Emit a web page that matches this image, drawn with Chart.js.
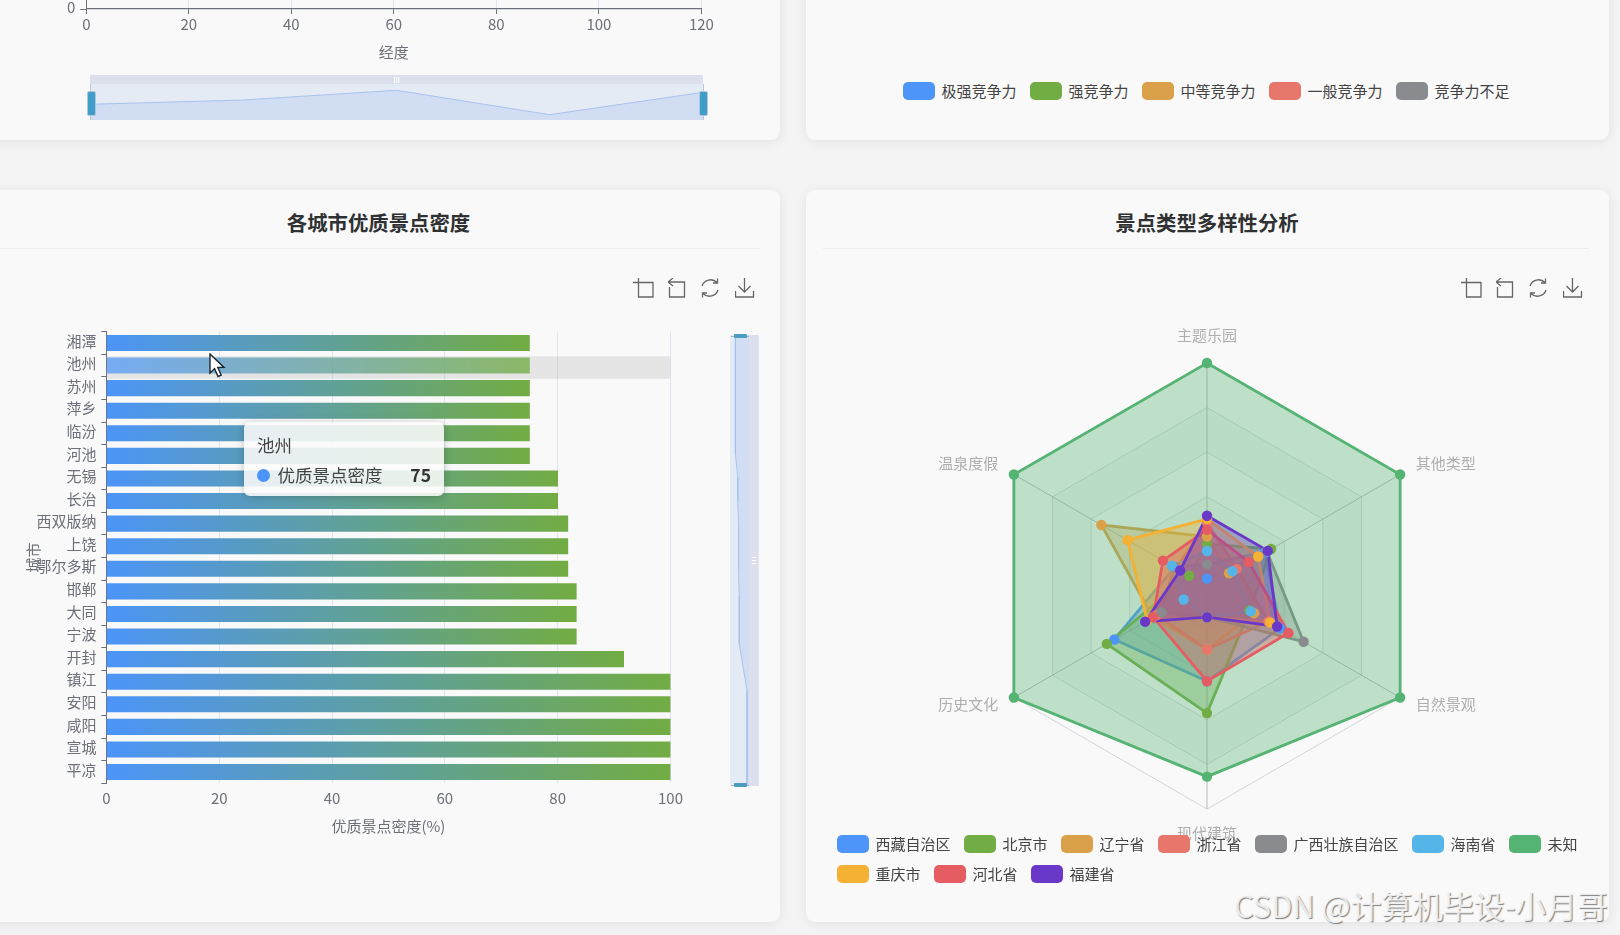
<!DOCTYPE html>
<html lang="zh"><head><meta charset="utf-8"><title>景点分析</title>
<script src="https://cdn.jsdelivr.net/npm/chart.js@4"></script>
<style>
html,body{margin:0;padding:0;width:1620px;height:935px;overflow:hidden;background:#f4f4f4;font-family:"Noto Sans CJK SC","Noto Sans",sans-serif}
.abs,canvas{position:absolute}
.card{position:absolute;background:#f9f9f9;border-radius:9px;box-shadow:0 2px 12px rgba(0,0,0,.08)}
.title{position:absolute;font-size:20.4px;font-weight:700;color:#303133;line-height:28px;transform:translateX(-50%);white-space:nowrap}
.rule{position:absolute;height:1px;background:#ebeef0}
.legend{position:absolute;display:flex;gap:13.4px;font-size:15px;color:#444;line-height:18px;white-space:nowrap}
.legend span.item{display:flex;gap:6.6px;align-items:center}
.legend i{display:inline-block;width:32px;height:18px;border-radius:5px}
#tip{position:absolute;left:244px;top:422px;width:200px;height:74px;background:rgba(250,251,251,.88);border-radius:6px;box-shadow:0 1px 8px rgba(0,0,0,.22);color:#444}
#tip div{position:absolute;font-size:17.5px;line-height:24px;white-space:nowrap}
#wm{position:absolute;left:1234px;top:885px;font-size:30.8px;line-height:40px;color:rgba(250,250,250,.85);text-shadow:1px 1px 1px rgba(90,90,90,.75);white-space:nowrap;font-family:"Noto Sans CJK SC",sans-serif}
svg.ic{position:absolute;fill:none;stroke:#666;stroke-width:1.3}
</style></head><body>
<div class="card" style="left:-30px;top:-200px;width:810px;height:339.5px"></div>
<div class="card" style="left:806px;top:-200px;width:803px;height:339.5px"></div>
<div class="card" style="left:-30px;top:190px;width:810px;height:731.7px"></div>
<div class="card" style="left:806px;top:190px;width:803px;height:731.7px"></div>
<div class="title" style="left:378.5px;top:208px" id="t1"></div>
<div class="title" style="left:1207px;top:208px" id="t2"></div>
<div class="rule" style="left:0;width:760px;top:248px"></div>
<div class="rule" style="left:823px;width:766px;top:248px"></div>

<!-- top-left dataZoom band -->
<div class="abs" style="left:90.4px;top:75.3px;width:613px;height:44.7px;background:#e4ebf4"></div>
<div class="abs" style="left:90.4px;top:75.3px;width:613px;height:8.7px;background:#dce0ed;border-radius:2px 2px 0 0"></div>
<!-- right dataZoom band -->
<div class="abs" style="left:730.2px;top:335px;width:27.6px;height:450.7px;background:#e4ebf4"></div>

<canvas id="topChart" width="780" height="170" style="left:0;top:-100px"></canvas>
<canvas id="miniH" width="613" height="36" style="left:90.4px;top:84px"></canvas>
<canvas id="barChart" width="700" height="540" style="left:0;top:300px"></canvas>
<canvas id="miniV" width="28" height="451" style="left:730.5px;top:335px"></canvas>
<canvas id="radar" width="800" height="580" style="left:807px;top:296px"></canvas>

<div class="abs" style="left:749px;top:335px;width:8.8px;height:450.7px;background:#dce0ed"></div>
<div class="abs" style="left:752px;top:557px;width:3.6px;height:1px;background:#fff;box-shadow:0 3px 0 #fff,0 6px 0 #fff"></div>
<div class="abs" style="left:394px;top:77px;width:1px;height:6px;background:#fff;box-shadow:2px 0 0 #fff,4px 0 0 #fff"></div>
<div class="abs" style="left:730.7px;top:335.5px;width:18px;height:1px;background:#a8b0bc"></div>
<div class="abs" style="left:730.7px;top:784.5px;width:18px;height:1px;background:#a8b0bc"></div>
<div class="abs" style="left:734px;top:334px;width:13px;height:4px;background:#4b9cc0;border-radius:1px"></div>
<div class="abs" style="left:734px;top:782.5px;width:13px;height:4px;background:#4b9cc0;border-radius:1px"></div>
<div class="abs" style="left:90px;top:84px;width:1px;height:36px;background:#b9c6dc"></div>
<div class="abs" style="left:703px;top:84px;width:1px;height:36px;background:#b9c6dc"></div>
<div class="abs" style="left:86.5px;top:90.7px;height:23.5px;background:#3f9ec8;border:1px solid #b4c6dc;border-radius:2px;width:7px"></div>
<div class="abs" style="left:698.8px;top:90.7px;width:7px;height:23.5px;background:#3f9ec8;border:1px solid #b4c6dc;border-radius:2px"></div>

<div id="legendTop" class="legend" style="left:903px;top:81.7px"></div>
<div id="legendR1" class="legend" style="left:837px;top:835px"></div>
<div id="legendR2" class="legend" style="left:837px;top:865px"></div>

<div id="tip">
  <div id="tipName" style="left:13px;top:11px"></div>
  <span class="abs" style="left:13px;top:46.5px;width:13px;height:13px;border-radius:50%;background:#4c94f8"></span>
  <div id="tipSeries" style="left:33.5px;top:41px"></div>
  <div id="tipVal" style="right:13px;top:41px;font-weight:700;color:#333"></div>
</div>

<svg class="abs" width="18" height="26" viewBox="0 0 18 26" style="left:208.5px;top:352.5px"><path d="M1 1 L1 20 L5.6 15.6 L9 23.5 L12.2 22.2 L8.8 14.5 L15 14.4 Z" fill="#fff" stroke="#1c2530" stroke-width="1.4"/></svg>

<div id="wm">CSDN @计算机毕设-小月哥</div>

<script>
// ---------- data ----------
const titleBar = '各城市优质景点密度';
const titleRadar = '景点类型多样性分析';
const cities = ['湘潭','池州','苏州','萍乡','临汾','河池','无锡','长治','西双版纳','上饶','鄂尔多斯','邯郸','大同','宁波','开封','镇江','安阳','咸阳','宣城','平凉'];
const density = [75,75,75,75,75,75,80,80,81.8,81.8,81.8,83.3,83.3,83.3,91.7,100,100,100,100,100];
const densityName = '优质景点密度';
const densityAxis = '优质景点密度(%)';
const cityAxis = '城市';
const hoverCity = '池州';
const densityTicks = [0,20,40,60,80,100];

const topXTicks = [0,20,40,60,80,100,120];
const topXName = '经度';
const miniCats = ['a','b','c','d','e'];
const miniValues = [15.7,20,29.7,5.3,27.7];

const levelNames = ['极强竞争力','强竞争力','中等竞争力','一般竞争力','竞争力不足'];
const levelColors = ['#4e95f9','#72ac45','#dba04a','#e8776b','#8a8b8f'];

const radarAxes = ['主题乐园','其他类型','自然景观','现代建筑','历史文化','温泉度假'];
const provinces = ['西藏自治区','北京市','辽宁省','浙江省','广西壮族自治区','海南省','未知','重庆市','河北省','福建省'];
const provinceColors = ['#4e95f9','#72ac45','#dba04a','#e8776b','#8a8b8f','#55b5e8','#55b373','#f5b133','#e55c62','#6a38c9'];
const xizang  = [3.3,30,37.9,42.7,48,16.8];
const beijing = [18.9,33.2,22,57,51.9,9.2];
const liaoning= [22.2,11.4,24.4,28.5,28,54.7];
const zhejiang= [28.5,15.4,31.8,28.5,26,16];
const guangxi = [9.6,31,50,14,23.5,17];
const hainan  = [15.7,13.2,22.7,14,12.1,18.2];
const weizhi  = [100,100,100,85.5,100,100];
const chongqing=[30,26.5,32.7,14,31,41.2];
const hebei   = [25.2,21.6,42.2,42.7,27.9,22.8];
const fujian  = [31.5,31.5,36.3,14,32,13.9];
const provinceValues = [xizang,beijing,liaoning,zhejiang,guangxi,hainan,weizhi,chongqing,hebei,fujian];

// ---------- static text ----------
const FONT = '"Noto Sans CJK SC","Noto Sans",sans-serif';
Chart.defaults.font.family = FONT;
Chart.defaults.font.size = 15;
Chart.defaults.animation = false;
Chart.defaults.responsive = false;
Chart.defaults.plugins.legend.display = false;
Chart.defaults.plugins.tooltip.enabled = false;

document.getElementById('t1').textContent = titleBar;
document.getElementById('t2').textContent = titleRadar;
const hoverIdx = cities.indexOf(hoverCity);
document.getElementById('tipName').textContent = cities[hoverIdx];
document.getElementById('tipSeries').textContent = densityName;
document.getElementById('tipVal').textContent = density[hoverIdx];

function fillLegend(id, names, colors){
  document.getElementById(id).innerHTML = names.map((n,i)=>
    `<span class="item"><i style="background:${colors[i]}"></i>${n}</span>`).join('');
}
fillLegend('legendTop', levelNames, levelColors);
fillLegend('legendR1', provinces.slice(0,7), provinceColors.slice(0,7));
fillLegend('legendR2', provinces.slice(7), provinceColors.slice(7));

const ICONS = [
 'M5.5 0V19H20V4.5H0',
 'M5 0L0 4L5 8M0 4H16.5V19H1.5V9',
 'M2 8A9 9 0 0 1 17 4.5M17.5 0.5V5H13M18 12A9 9 0 0 1 3 15.5M2.5 19.5V15H7',
 'M9.5 0V14M3.5 8L9.5 14L15.5 8M0.5 13V19H18.5V13'
];
const ICON_X = [633,668,700,735];
[0,827.6].forEach(dx=>ICONS.forEach((d,i)=>{
  const s = document.createElementNS('http://www.w3.org/2000/svg','svg');
  s.setAttribute('class','ic'); s.setAttribute('width','22'); s.setAttribute('height','22');
  s.style.left = (ICON_X[i]+dx)+'px'; s.style.top = '278px';
  const p = document.createElementNS('http://www.w3.org/2000/svg','path');
  p.setAttribute('d',d); s.appendChild(p); document.body.appendChild(s);
}));

// ---------- top-left cropped axis ----------
new Chart(document.getElementById('topChart'),{
  type:'scatter',
  data:{datasets:[{data:[]}]},
  options:{
    layout:{padding:{left:0,right:78.6,top:0,bottom:0}},
    scales:{
      x:{min:0,max:120,afterBuildTicks:s=>{s.ticks=topXTicks.map(v=>({value:v}))},
         grid:{color:'#e0e6f1',tickColor:'#6e7079',tickLength:5},
         border:{color:'#6e7079',width:1.3},
         ticks:{color:'#6e7079',padding:1,maxRotation:0,font:{size:15}},
         title:{display:true,text:topXName,color:'#6e7079',font:{size:15},padding:{top:9,bottom:9}},
         afterFit:s=>{s.height=61}},
      y:{min:0,max:100,afterBuildTicks:s=>{s.ticks=[{value:0}]},
         grid:{display:true,drawOnChartArea:false,tickColor:'#6e7079',tickLength:6},
         border:{color:'#6e7079'},
         ticks:{color:'#6e7079',padding:5,labelOffset:-2,font:{size:15}},
         afterFit:s=>{s.width=86.3}}
    }
  }
});

// ---------- mini area in horizontal slider ----------
new Chart(document.getElementById('miniH'),{
  type:'line',
  data:{labels:miniCats,datasets:[{data:miniValues,borderColor:'#a9c2ee',borderWidth:1,pointRadius:0,fill:'start',backgroundColor:'rgba(150,182,240,.26)',tension:0}]},
  options:{scales:{x:{display:false},y:{display:false,min:0,max:36}}}
});

// ---------- bar chart ----------
const hoverBand = {
  id:'hoverBand',
  beforeDatasetsDraw(chart){
    const {ctx,chartArea:a,scales:{y}} = chart;
    const h = y.getPixelForValue(1)-y.getPixelForValue(0);
    const c = y.getPixelForValue(hoverIdx)+2;
    ctx.save(); ctx.fillStyle='rgba(150,150,150,.2)';
    ctx.fillRect(a.left,c-h/2,a.right-a.left,h); ctx.restore();
  }
};
function barFill(c){
  const s = c.chart.scales && c.chart.scales.x;
  const v = density[c.dataIndex];
  const x0 = s ? s.getPixelForValue(0) : NaN;
  const x1 = s ? s.getPixelForValue(v) : NaN;
  if(!Number.isFinite(x0) || !Number.isFinite(x1)) return '#4c94f8';
  const g = c.chart.ctx.createLinearGradient(x0,0,x1,0);
  const hov = c.dataIndex===hoverIdx;
  g.addColorStop(0, hov?'rgba(76,148,248,.72)':'#4c94f8');
  g.addColorStop(1, hov?'rgba(114,172,67,.78)':'#72ac43');
  return g;
}
new Chart(document.getElementById('barChart'),{
  type:'bar',
  plugins:[hoverBand],
  data:{labels:cities,datasets:[{label:densityName,data:density,backgroundColor:barFill,barThickness:15.4,borderWidth:0}]},
  options:{
    indexAxis:'y',
    layout:{padding:{top:31.7,right:29.5,left:0,bottom:0}},
    scales:{
      x:{min:0,max:100,position:'bottom',afterBuildTicks:s=>{s.ticks=densityTicks.map(v=>({value:v}))},
         grid:{color:'#e0e6f1',drawTicks:false},
         border:{display:false},
         ticks:{color:'#6e7079',padding:6,maxRotation:0,font:{size:15}},
         title:{display:true,text:densityAxis,color:'#6e7079',font:{size:15},padding:{top:0,bottom:5}},
         afterFit:s=>{s.height=56.7}},
      y:{grid:{display:true,drawOnChartArea:false,tickColor:'#6e7079',tickLength:5},
         border:{color:'#6e7079'},
         ticks:{color:'#6e7079',padding:5,labelOffset:-2,autoSkip:false,font:{size:15}},
         title:{display:true,text:cityAxis,color:'#6e7079',font:{size:15},padding:{top:24,bottom:0}},
         afterFit:s=>{s.width=106.4}}
    }
  }
});

// ---------- mini area in vertical slider ----------
new Chart(document.getElementById('miniV'),{
  type:'line',
  data:{labels:cities,datasets:[{data:density,borderColor:'#a9c2ee',borderWidth:1,pointRadius:0,fill:'start',backgroundColor:'rgba(150,182,240,.26)',tension:0}]},
  options:{indexAxis:'y',scales:{x:{display:false,min:65.6,max:125.6},y:{display:false}}}
});

// ---------- radar ----------
const radarDeco = {
  id:'radarDeco',
  beforeDraw(chart){
    const {ctx,scales:{r}} = chart;
    const n = radarAxes.length;
    ctx.save();
    for(let k=4;k>=0;k--){
      const rad = r.getDistanceFromCenterForValue((k+1)*20);
      const rin = r.getDistanceFromCenterForValue(k*20);
      ctx.beginPath();
      for(let i=0;i<n;i++){const p=r.getPointPosition(i,rad); i?ctx.lineTo(p.x,p.y):ctx.moveTo(p.x,p.y);}
      ctx.closePath();
      for(let i=n-1;i>=0;i--){const p=r.getPointPosition(i,rin); i===n-1?ctx.moveTo(p.x,p.y):ctx.lineTo(p.x,p.y);}
      ctx.closePath();
      ctx.fillStyle = k%2 ? 'rgba(200,205,205,.14)' : 'rgba(250,250,250,.3)';
      ctx.fill();
    }
    ctx.restore();
  },
  afterDraw(chart){
    const {ctx,scales:{r}} = chart;
    ctx.save();
    ctx.font = '15px '+FONT; ctx.fillStyle='#aeaeae'; ctx.textBaseline='middle';
    radarAxes.forEach((t,i)=>{
      const vertical = i===0||i===3;
      const p = r.getPointPosition(i, r.drawingArea + (i===0?28:i===3?24:18));
      ctx.textAlign = vertical?'center':(i<3?'left':'right');
      ctx.fillText(t,p.x,p.y - (vertical?0:2));
    });
    ctx.restore();
  }
};
function alpha(hex,a){
  const v=parseInt(hex.slice(1),16);
  return `rgba(${v>>16},${(v>>8)&255},${v&255},${a})`;
}
// areas with their outlines, each covering the ones before it
const radarAreas = provinces.map((name,i)=>({
  label:name,data:provinceValues[i],order:-i,
  borderColor:provinceColors[i],backgroundColor:alpha(provinceColors[i],.36),
  pointRadius:0,borderWidth:2.8,fill:true,tension:0
}));
// the markers sit above every area
const radarMarkers = provinces.map((name,i)=>({
  label:name,data:provinceValues[i],order:-100-i,
  showLine:false,fill:false,
  pointBackgroundColor:provinceColors[i],pointBorderWidth:0,pointRadius:5.2
}));
new Chart(document.getElementById('radar'),{
  type:'radar',
  plugins:[radarDeco],
  data:{labels:radarAxes,datasets:radarAreas.concat(radarMarkers)},
  options:{
    layout:{padding:{left:177,right:177,top:67,bottom:67}},
    scales:{r:{min:0,max:100,
      ticks:{display:false,stepSize:20},
      pointLabels:{display:false},
      grid:{color:'#d2d5d8',lineWidth:1},
      angleLines:{color:'#b5b8bb',lineWidth:1}}}
  }
});
</script>
</body></html>
